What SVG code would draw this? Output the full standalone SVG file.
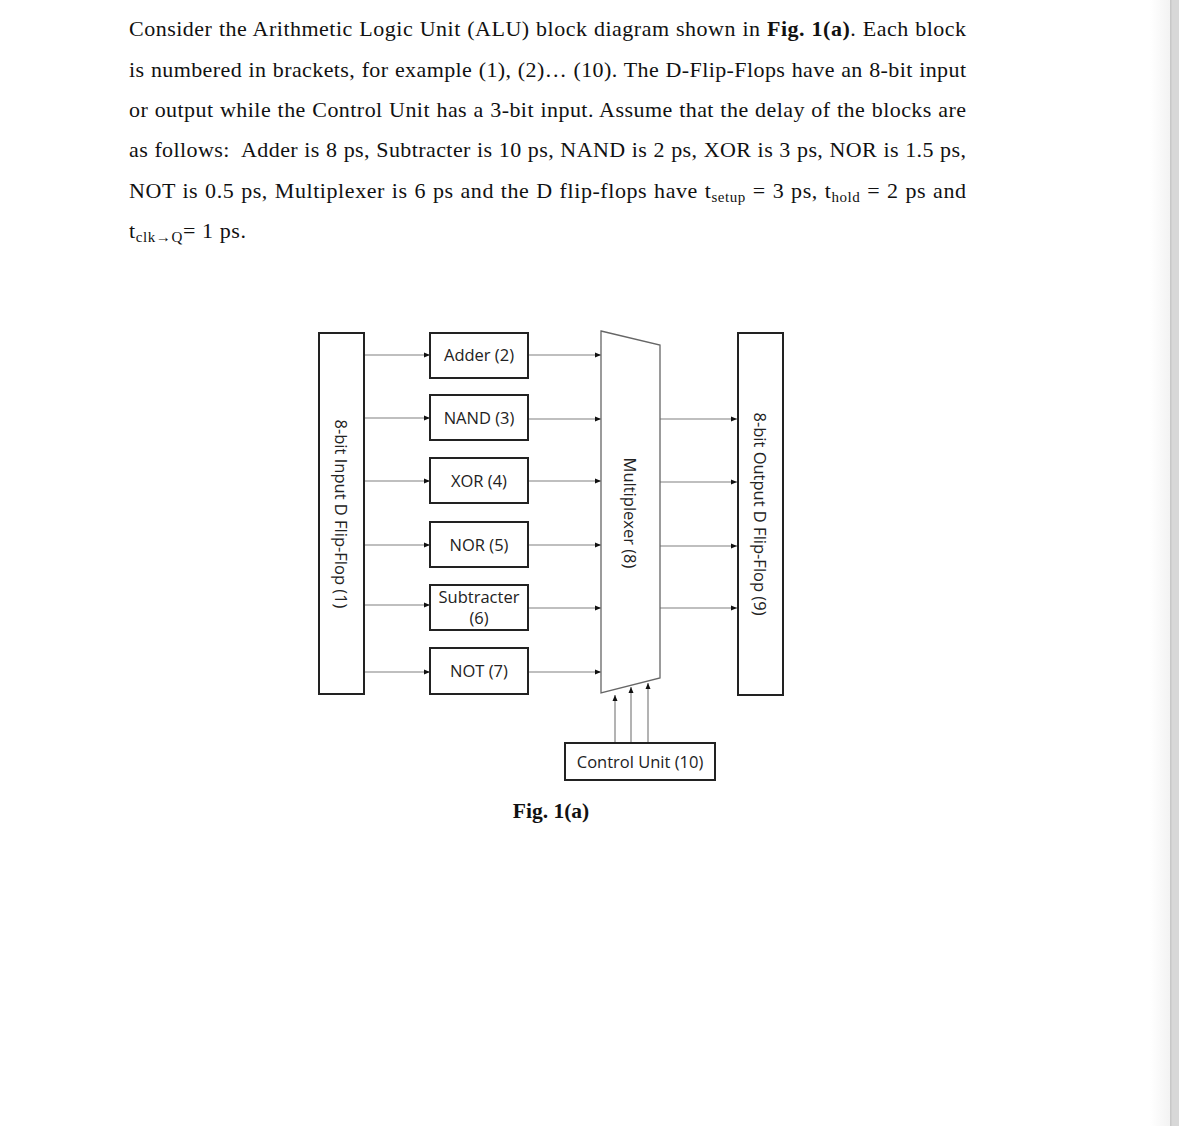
<svg xmlns="http://www.w3.org/2000/svg" width="1179" height="1126" viewBox="0 0 1179 1126">
<defs>
<marker id="ah" markerWidth="6" markerHeight="6" refX="6" refY="3" orient="auto" markerUnits="userSpaceOnUse">
<path d="M0,0.5 L6,3 L0,5.5 Z" fill="#111"/>
</marker>
<linearGradient id="edge" x1="0" x2="1" y1="0" y2="0">
<stop offset="0" stop-color="#ffffff"/>
<stop offset="1" stop-color="#f3f3f3"/>
</linearGradient>
</defs>
<style>
.p{font-family:"Liberation Serif","Times New Roman",serif;font-size:22px;fill:#111}
.sub{font-size:15px}
.b{font-weight:bold}
.box{fill:#fff;stroke:#222;stroke-width:2}
.lab{font-family:"Open Sans","Noto Sans",sans-serif;font-size:16.5px;fill:#222;text-anchor:middle}
.w{stroke:#808080;stroke-width:1.2;fill:none}
.wa{stroke:#808080;stroke-width:1.2;fill:none;marker-end:url(#ah)}
</style>
<rect width="1179" height="1126" fill="#fff"/>
<rect x="1150" y="0" width="20" height="1126" fill="url(#edge)"/>
<rect x="1170" y="0" width="9" height="1126" fill="#d8d8d8"/>
<rect x="1170" y="0" width="1.5" height="1126" fill="#c8c8c8"/>

<g id="paragraph">
<text class="p" x="129" y="36" word-spacing="0.5" textLength="837" lengthAdjust="spacing">Consider the Arithmetic Logic Unit (ALU) block diagram shown in <tspan class="b">Fig. 1(a)</tspan>. Each block</text>
<text class="p" x="129" y="77" word-spacing="0.5" textLength="837" lengthAdjust="spacing">is numbered in brackets, for example (1), (2)… (10). The D-Flip-Flops have an 8-bit input</text>
<text class="p" x="129" y="117" word-spacing="0.5" textLength="837" lengthAdjust="spacing">or output while the Control Unit has a 3-bit input. Assume that the delay of the blocks are</text>
<text class="p" x="129" y="157" word-spacing="0.3" textLength="837" lengthAdjust="spacing">as follows:&#160; Adder is 8 ps, Subtracter is 10 ps, NAND is 2 ps, XOR is 3 ps, NOR is 1.5 ps,</text>
<text class="p" x="129" y="198" word-spacing="0.8" textLength="837" lengthAdjust="spacing">NOT is 0.5 ps, Multiplexer is 6 ps and the D flip-flops have t<tspan class="sub" dy="4">setup</tspan><tspan dy="-4"> = 3 ps, t</tspan><tspan class="sub" dy="4">hold</tspan><tspan dy="-4"> = 2 ps and</tspan></text>
<text class="p" x="129" y="238" letter-spacing="0.6">t<tspan class="sub" dy="4">clk→Q</tspan><tspan dy="-4">= 1 ps.</tspan></text>
</g>

<g id="connectors">
<line class="wa" x1="364" y1="355" x2="430" y2="355"/>
<line class="wa" x1="364" y1="418" x2="430" y2="418"/>
<line class="wa" x1="364" y1="481" x2="430" y2="481"/>
<line class="wa" x1="364" y1="545" x2="430" y2="545"/>
<line class="wa" x1="364" y1="605" x2="430" y2="605"/>
<line class="wa" x1="364" y1="672" x2="430" y2="672"/>
<line class="wa" x1="528" y1="355" x2="601" y2="355"/>
<line class="wa" x1="528" y1="419" x2="601" y2="419"/>
<line class="wa" x1="528" y1="481" x2="601" y2="481"/>
<line class="wa" x1="528" y1="545" x2="601" y2="545"/>
<line class="wa" x1="528" y1="608" x2="601" y2="608"/>
<line class="wa" x1="528" y1="672" x2="601" y2="672"/>
<line class="wa" x1="660" y1="419" x2="737" y2="419"/>
<line class="wa" x1="660" y1="482" x2="737" y2="482"/>
<line class="wa" x1="660" y1="546" x2="737" y2="546"/>
<line class="wa" x1="660" y1="608" x2="737" y2="608"/>
<line class="wa" x1="615" y1="743" x2="615" y2="695"/>
<line class="wa" x1="631" y1="743" x2="631" y2="687"/>
<line class="wa" x1="648" y1="743" x2="648" y2="683"/>
</g>

<g id="n1">
<rect class="box" x="319" y="333" width="45" height="361"/>
<text class="lab" transform="translate(341,514) rotate(90)" dy="6">8-bit Input D Flip-Flop (1)</text>
</g>
<g id="n2">
<rect class="box" x="430" y="333" width="98" height="45"/>
<text class="lab" x="479" y="361">Adder (2)</text>
</g>
<g id="n3">
<rect class="box" x="430" y="395" width="98" height="45"/>
<text class="lab" x="479" y="424">NAND (3)</text>
</g>
<g id="n4">
<rect class="box" x="430" y="458" width="98" height="45"/>
<text class="lab" x="479" y="487">XOR (4)</text>
</g>
<g id="n5">
<rect class="box" x="430" y="522" width="98" height="45"/>
<text class="lab" x="479" y="551">NOR (5)</text>
</g>
<g id="n6">
<rect class="box" x="430" y="585" width="98" height="45"/>
<text class="lab" x="479" y="603">Subtracter</text>
<text class="lab" x="479" y="624">(6)</text>
</g>
<g id="n7">
<rect class="box" x="430" y="648" width="98" height="46"/>
<text class="lab" x="479" y="677">NOT (7)</text>
</g>
<g id="n8">
<path d="M601,331 L660,345 L660,678 L601,693 Z" fill="#fff" stroke="#666" stroke-width="1.3"/>
<text class="lab" transform="translate(630,513) rotate(90)" dy="6">Multiplexer (8)</text>
</g>
<g id="n9">
<rect class="box" x="738" y="333" width="45" height="362"/>
<text class="lab" transform="translate(760,514) rotate(90)" dy="6">8-bit Output D Flip-Flop (9)</text>
</g>
<g id="n10">
<rect class="box" x="565" y="743" width="150" height="37"/>
<text class="lab" x="640" y="768">Control Unit (10)</text>
</g>
<text x="551" y="818" font-family="Liberation Serif, serif" font-weight="bold" font-size="21.5" text-anchor="middle" fill="#111">Fig. 1(a)</text>
</svg>
